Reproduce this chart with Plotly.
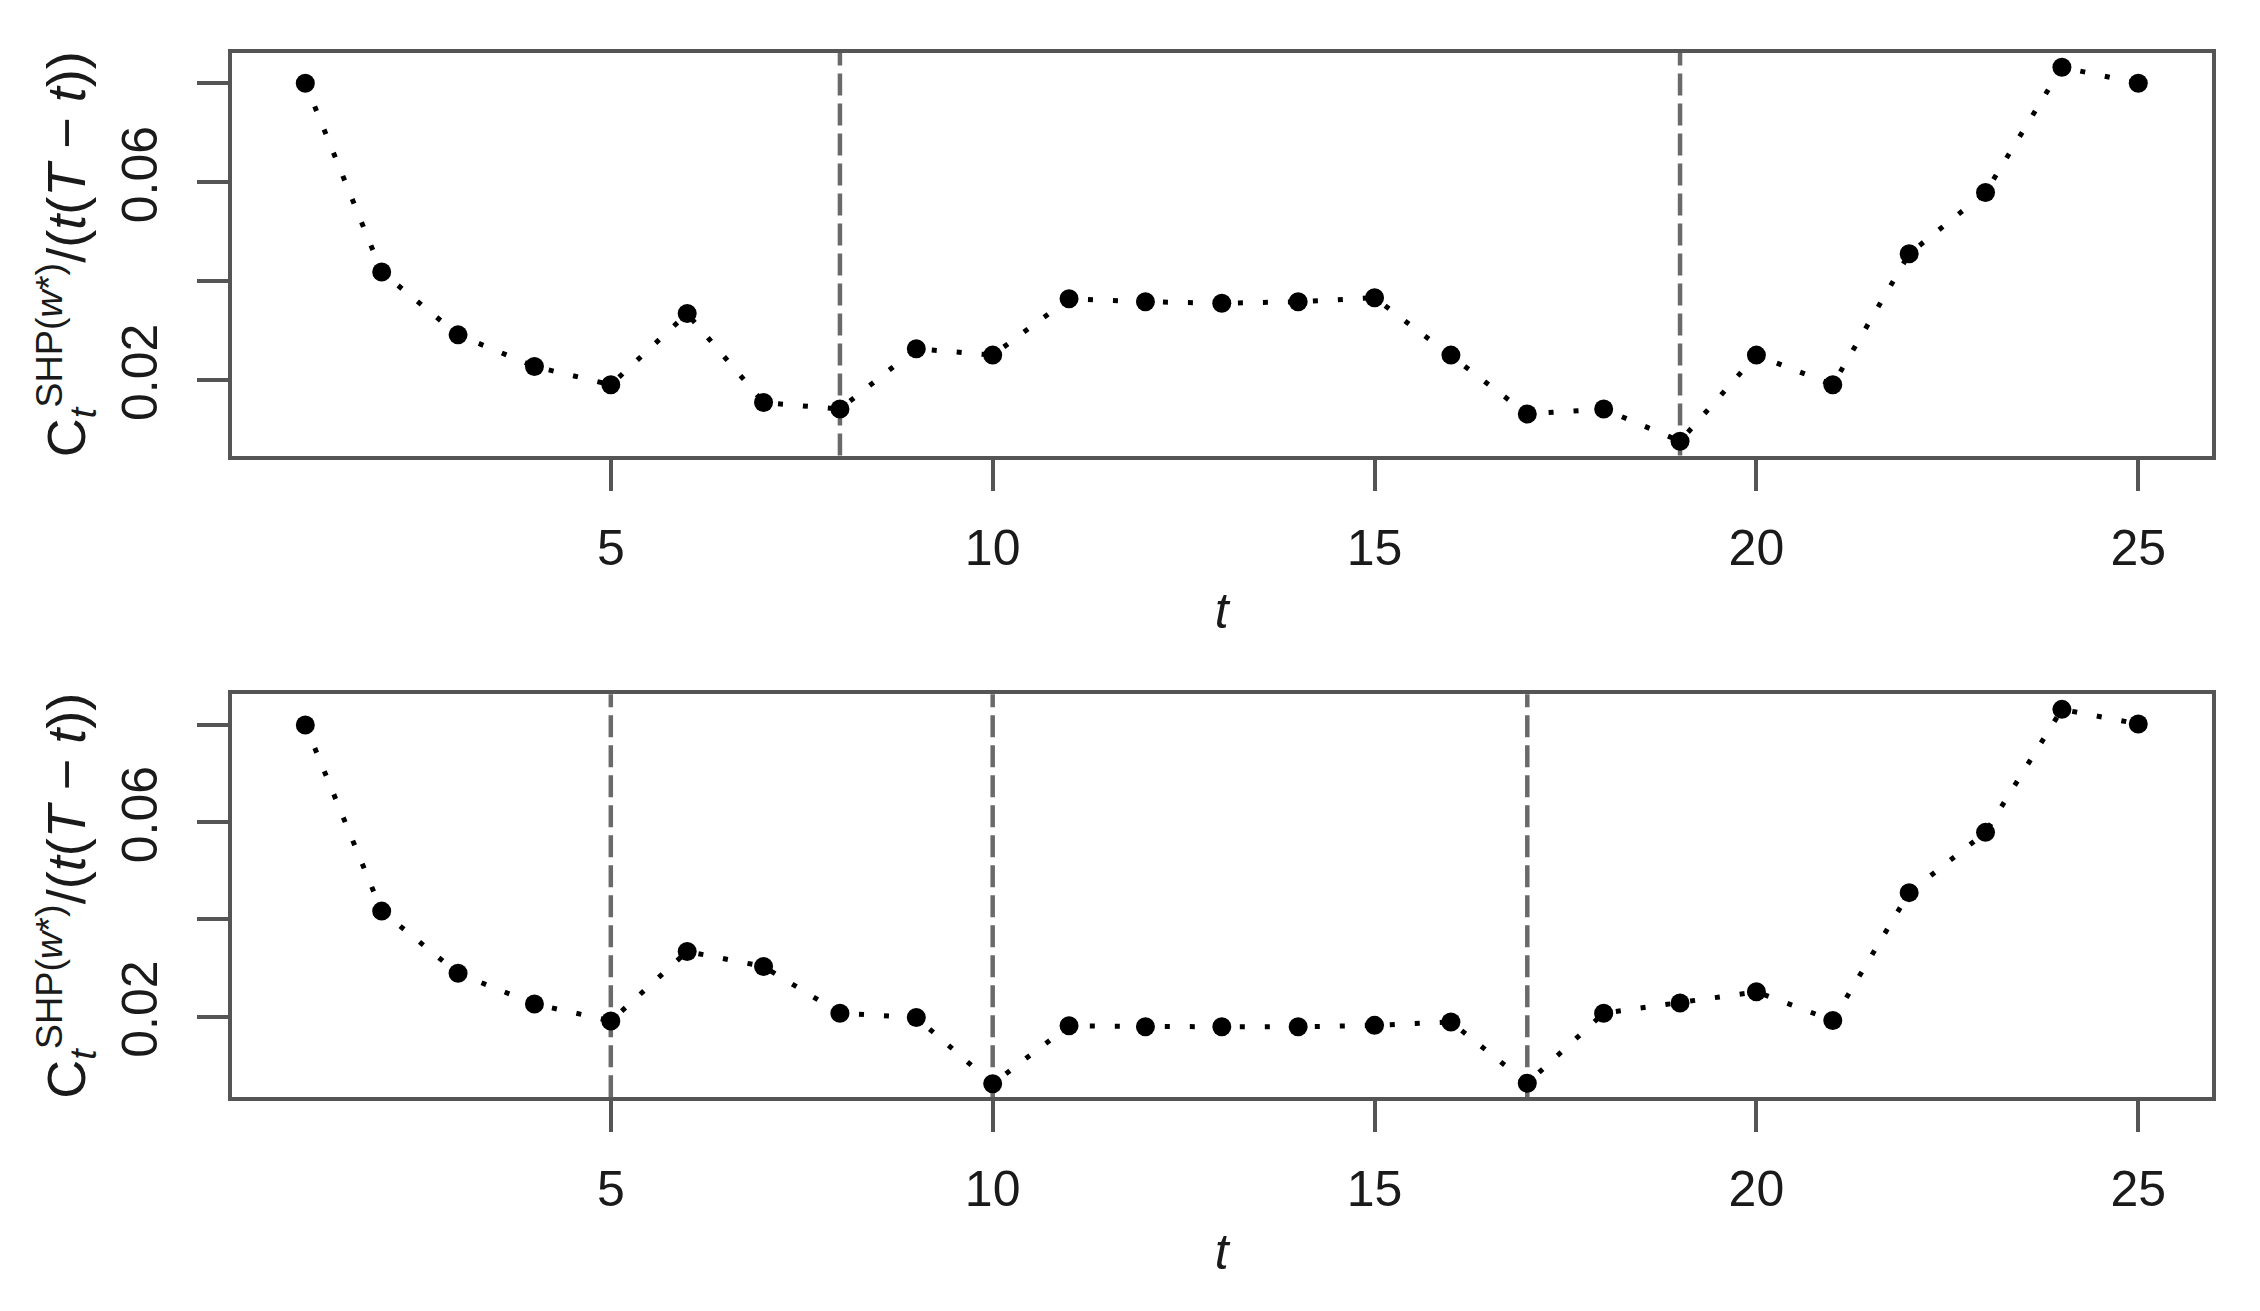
import plotly.graph_objects as go

# ---------------- data ----------------
t = list(range(1, 26))
top_values = [0.0800, 0.0418, 0.0291, 0.0227, 0.0190, 0.0334, 0.0154, 0.0141, 0.0263, 0.0250,
              0.0364, 0.0358, 0.0355, 0.0358, 0.0366, 0.0250, 0.0131, 0.0141, 0.0076, 0.0250,
              0.0190, 0.0455, 0.0579, 0.0832, 0.0800]
bottom_values = [0.0800, 0.0417, 0.0289, 0.0226, 0.0191, 0.0334, 0.0303, 0.0207, 0.0198, 0.0062,
                 0.0181, 0.0179, 0.0179, 0.0179, 0.0182, 0.0189, 0.0063, 0.0207, 0.0228, 0.0251,
                 0.0192, 0.0455, 0.0579, 0.0832, 0.0802]
top_breaks = [8, 19]
bottom_breaks = [5, 10, 17]
x_ticks = [5, 10, 15, 20, 25]
x_tick_labels = ["5", "10", "15", "20", "25"]
y_label_ticks = [0.02, 0.06]
y_label_text = ["0.02", "0.06"]
y_unlabelled_ticks = [0.04, 0.08]
x_title = "<i>t</i>"
y_title = "C<sub><i>t</i></sub><sup>SHP(<i>w</i>*)</sup>/(<i>t</i>(<i>T</i> \u2212 <i>t</i>))"

# ---------------- style ----------------
W, H = 2260, 1311
OFF = 8  # page body margin in the browser
FONT = "Liberation Sans, Arial, sans-serif"
FRAME = "#555555"
TXT = "#1a1a1a"
x_dom = [(232 - OFF) / W, (2211.6 - OFF) / W]
top_dom = [1 - (455.5 - OFF) / H, 1 - (53 - OFF) / H]
bot_dom = [1 - (1097.3 - OFF) / H, 1 - (694.3 - OFF) / H]

fig = go.Figure()

for vals, xa, ya in [(top_values, "x", "y"), (bottom_values, "x2", "y2")]:
    fig.add_trace(go.Scatter(
        x=t, y=vals, xaxis=xa, yaxis=ya, mode="lines+markers",
        line=dict(color="black", width=5, dash="5px,20px"),
        marker=dict(color="black", size=19, line=dict(width=0)),
        showlegend=False, hoverinfo="x+y",
    ))

dash_line = dict(color="#6a6a6a", width=4.5, dash="22px,8px")
for b in top_breaks:
    fig.add_shape(type="line", xref="x", yref="y domain", x0=b, x1=b, y0=0, y1=1,
                  line=dash_line, layer="below")
for b in bottom_breaks:
    fig.add_shape(type="line", xref="x2", yref="y2 domain", x0=b, x1=b, y0=0, y1=1,
                  line=dash_line, layer="below")

xaxis_common = dict(
    domain=x_dom, range=[0.04, 25.96], tickmode="array", tickvals=x_ticks, ticktext=x_tick_labels,
    ticks="outside", ticklen=31, tickwidth=4, tickcolor=FRAME,
    showline=True, linecolor=FRAME, linewidth=4, mirror=True,
    showgrid=False, zeroline=False, automargin=False,
    tickfont=dict(family=FONT, size=50, color=TXT), ticklabelstandoff=14,
    title=dict(text=x_title, font=dict(family=FONT, size=50, color=TXT), standoff=19),
)
yaxis_common = dict(
    tickmode="array", tickvals=y_label_ticks, ticktext=y_label_text, tickangle=-90,
    ticks="outside", ticklen=31, tickwidth=4, tickcolor=FRAME,
    minor=dict(tickmode="array", tickvals=y_unlabelled_ticks, ticks="outside",
               ticklen=31, tickwidth=4, tickcolor=FRAME, showgrid=False),
    showline=True, linecolor=FRAME, linewidth=4, mirror=True,
    showgrid=False, zeroline=False, automargin=False,
    tickfont=dict(family=FONT, size=50, color=TXT), ticklabelstandoff=20,
    title=dict(text=y_title, font=dict(family=FONT, size=54, color=TXT), standoff=10),
)

fig.update_layout(
    width=W, height=H, template="none",
    paper_bgcolor="white", plot_bgcolor="white",
    margin=dict(l=0, r=0, t=0, b=0),
    xaxis=dict(anchor="y", **xaxis_common),
    yaxis=dict(anchor="x", domain=top_dom, range=[0.0047, 0.0861], **yaxis_common),
    xaxis2=dict(anchor="y2", **xaxis_common),
    yaxis2=dict(anchor="x2", domain=bot_dom, range=[0.0034, 0.0863], **yaxis_common),
    showlegend=False,
)

fig.write_html("out.html")
